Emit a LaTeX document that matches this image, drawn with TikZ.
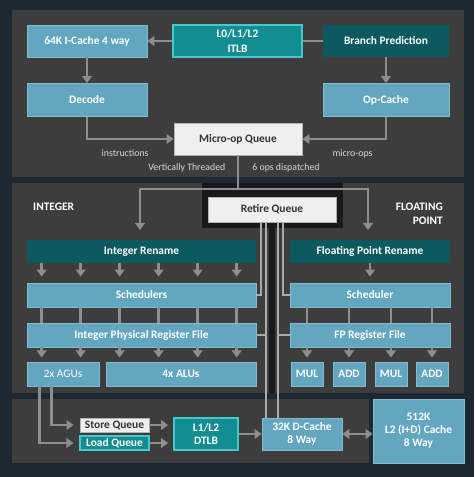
\documentclass[tikz,border=0pt]{standalone}
\usepackage{fontspec}
\setmainfont{Carlito}
\usepackage{xcolor}
\usepackage{tikz}
\usetikzlibrary{arrows.meta, calc}

\definecolor{bgnavy}{HTML}{1D2833}
\definecolor{panelgray}{HTML}{3E3D3D}
\definecolor{cutblack}{HTML}{17191C}
\definecolor{lightblue}{HTML}{62A6BF}
\definecolor{lightedge}{HTML}{80BBCF}
\definecolor{tealbox}{HTML}{138C92}
\definecolor{tealedge}{HTML}{45C9CF}
\definecolor{darkteal}{HTML}{0C5A60}
\definecolor{whitebox}{HTML}{EFEFEF}
\definecolor{arrowgray}{HTML}{8E8E8E}
\definecolor{retiregray}{HTML}{AAAAAA}

\newcommand{\pxu}{0.02cm}

\begin{document}
\begin{tikzpicture}[x=0.02cm, y=-0.02cm, >={Triangle[length=4pt,width=5.5pt]},
    sz/.style 2 args={minimum width=#1*\pxu, minimum height=#2*\pxu, inner sep=0pt},
    blk/.style={font=\fontsize{6.5}{7.4}\selectfont\bfseries, text=white, align=center},
    lbox/.style={blk, fill=lightblue, draw=lightedge, line width=0.5pt},
    tbox/.style={blk, fill=tealbox, draw=tealedge, line width=0.7pt},
    dbox/.style={blk, fill=darkteal},
    wbox/.style={blk, fill=whitebox, draw=gray!60, line width=0.5pt, text=black!80},
    lbl/.style={font=\fontsize{5.6}{6.5}\selectfont, text=white!85!black},
    arr/.style={->, arrowgray, line width=1.7pt},
    link/.style={arrowgray, line width=1.7pt},
    rline/.style={retiregray, line width=1.1pt}]

    \useasboundingbox (0,0) rectangle (474,477);
    \fill[bgnavy] (0,0) rectangle (474,477);

    % panels
    \fill[panelgray] (12,10) rectangle (464,177);
    \fill[panelgray] (12,183) rectangle (464,393);
    \fill[cutblack] (202,183) rectangle (343,228);
    \fill[cutblack] (269,228) rectangle (275,393);
    \fill[panelgray] (12,399) rectangle (369,463);

    % front end
    \node (icache) [lbox, sz={120}{32}] at (87,41) {64K I-Cache 4 way};
    \node (itlb) [tbox, sz={129}{32}, font=\fontsize{6.5}{8}\selectfont\bfseries] at (237.5,41) {L0/L1/L2\\ITLB};
    \node (bp) [dbox, sz={126}{32}] at (386,41) {Branch Prediction};
    \node (decode) [lbox, sz={120}{33}] at (87,100) {Decode};
    \node (opcache) [lbox, sz={126}{33}] at (386,100) {Op-Cache};
    \node (uopq) [wbox, sz={128}{32}] at (238,139) {Micro-op Queue};

    \draw[arr] (itlb) -- (icache);
    \draw[link] (bp) -- (itlb);
    \draw[arr] (icache) -- (decode);
    \draw[arr] (bp) -- (opcache);
    \draw[arr] (decode.south) |- node[lbl, pos=0.72, below=2pt] (instr) {instructions} (uopq.west);
    \draw[arr] (opcache.south) |- node[lbl, pos=0.7, below=2pt] (uops) {micro-ops} (uopq.east);

    % dispatch
    \coordinate (split) at (238,189);
    \coordinate (intin) at (140,230);
    \coordinate (fpin) at (368,230);
    \draw[link] (uopq.south) -- node[lbl, pos=0.37, left=3pt] (vt) {Vertically Threaded}
        node[lbl, pos=0.37, right=4pt] (six) {6 ops dispatched} (split);
    \draw[arr] (split) -| (intin);
    \draw[arr] (split) -| (fpin);

    % integer and floating point
    \node (intlbl) [blk, anchor=west] at (27,207) {INTEGER};
    \node (fplbl) [blk, anchor=east, align=right, font=\fontsize{6.5}{8}\selectfont\bfseries] at (449,214) {FLOATING\\POINT};
    \node (retire) [wbox, sz={128}{25}] at (272,209.5) {Retire Queue};
    \node (irename) [dbox, sz={229}{23}] at (141.5,251.5) {Integer Rename};
    \node (frename) [dbox, sz={160}{23}] at (370,251.5) {Floating Point Rename};
    \node (sched) [lbox, sz={229}{24}] at (141.5,295) {Schedulers};
    \node (fsched) [lbox, sz={160}{24}] at (370,295) {Scheduler};
    \node (iprf) [lbox, sz={229}{24}] at (141.5,335) {Integer Physical Register File};
    \node (fprf) [lbox, sz={160}{24}] at (370,335) {FP Register File};
    \node (agu) [lbox, sz={72}{24}, font=\fontsize{6.5}{7.4}\selectfont] at (63,374) {2x AGUs};
    \node (alu) [lbox, sz={150}{24}] at (181,374) {4x ALUs};
    \node (mul1) [lbox, sz={32}{24}] at (307,374) {MUL};
    \node (add1) [lbox, sz={32}{24}] at (349,374) {ADD};
    \node (mul2) [lbox, sz={32}{24}] at (391,374) {MUL};
    \node (add2) [lbox, sz={32}{24}] at (432,374) {ADD};

    \foreach \i in {0,...,5} {
        \coordinate (c\i) at ($(irename.south west)+({15+39*\i},0)$);
        \draw[arr, shorten >=3.4pt] (c\i) -- (c\i |- sched.north);
        \draw[link] (c\i |- sched.south) -- (c\i |- iprf.north);
        \draw[arr, shorten >=2.3pt] (c\i |- iprf.south) -- (c\i |- alu.north);
    }
    \draw[arr, shorten >=3.4pt] (frename.south) -- (fsched.north);
    \foreach \n in {mul1,add1,mul2,add2} {
        \draw[link] (fsched.south -| \n) -- (fprf.north -| \n);
        \draw[arr, shorten >=2.3pt] (fprf.south -| \n) -- (\n);
    }

    % load / store
    \node (storeq) [wbox, sz={69}{14}] at (114.5,425) {Store Queue};
    \node (loadq) [tbox, sz={69}{14}] at (114.5,443) {Load Queue};
    \node (dtlb) [tbox, sz={64}{32}] at (206,434) {L1/L2\\DTLB};
    \node (dcache) [lbox, sz={80}{32}] at (302,434) {32K D-Cache\\8 Way};
    \node (l2) [lbox, sz={91}{64}] at (418.5,431) {512K\\L2 (I+D) Cache\\8 Way};

    % retire queue
    \coordinate (r1) at ($(retire.south west)+(53,0)$);
    \coordinate (r2) at ($(retire.south west)+(58,0)$);
    \coordinate (r3) at ($(retire.south west)+(70,0)$);
    \coordinate (r4) at ($(retire.south west)+(75,0)$);
    \draw[rline] (r1) |- (sched.east);
    \draw[rline] (r2) -- (r2 |- dcache.north);
    \draw[rline] (r2 |- iprf.east) -- (iprf.east);
    \draw[rline] (r3) -- (r3 |- dcache.north);
    \draw[rline] (r3 |- fprf.west) -- (fprf.west);
    \draw[rline] (r4) |- (fsched.west);

    \draw[arr, shorten >=3.4pt] ($(agu.south west)+(25,0)$) |- (storeq.west);
    \draw[arr, shorten >=3.4pt] ($(agu.south west)+(13,0)$) |- (loadq.west);
    \draw[arr, shorten >=3pt] (storeq.east) -- (storeq.east -| dtlb.west);
    \draw[arr, shorten >=3pt] (loadq.east) -- (loadq.east -| dtlb.west);
    \draw[arr] (dtlb) -- (dcache);
    \draw[<->, arrowgray, line width=1.7pt] (dcache.east) -- (dcache.east -| l2.west);
\end{tikzpicture}
\end{document}
